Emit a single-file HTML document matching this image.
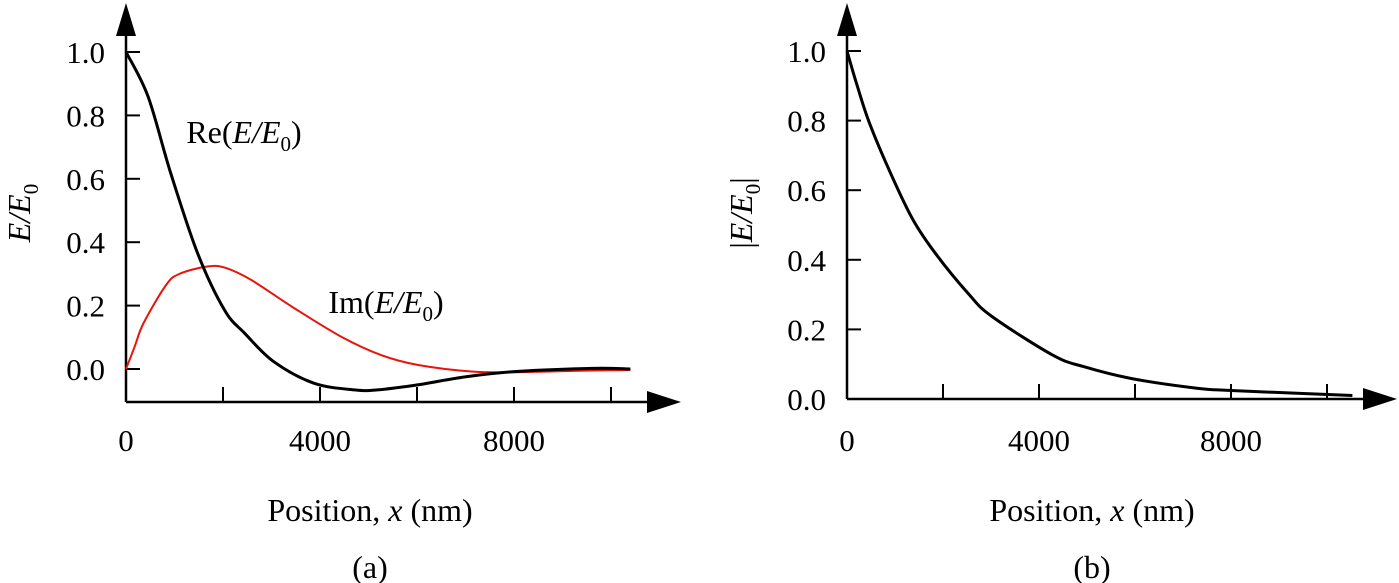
<!DOCTYPE html>
<html><head><meta charset="utf-8"><style>
html,body{margin:0;padding:0;background:#fff;}
svg{display:block;font-family:"Liberation Serif",serif;}
</style></head><body>
<svg id="fig" width="1399" height="583" viewBox="0 0 1399 583" xmlns="http://www.w3.org/2000/svg"></svg>
<script>
const reX = [0,454,918,1474,2030,2446,3048,3880,4715,5180,6010,7030,8050,9620,10400];
const reY = [1.0,0.86,0.62,0.366,0.186,0.113,0.023,-0.045,-0.066,-0.066,-0.05,-0.024,-0.008,0.002,0.0];
const imX = [0,177,363,826,1102,1660,2030,2580,3418,4437,5260,6010,7120,8050,9430,10400];
const imY = [0,0.07,0.145,0.265,0.30,0.323,0.32,0.281,0.197,0.102,0.044,0.013,-0.008,-0.01,-0.005,-0.003];
const absX = [0,198,470,940,1380,1840,2520,3020,4290,4930,5920,7290,8060,10530];
const absY = [1.0,0.907,0.792,0.639,0.514,0.419,0.304,0.237,0.126,0.093,0.059,0.031,0.024,0.01];
const yTicks = [0,0.2,0.4,0.6,0.8,1.0];
const yTickLabels = ["0.0","0.2","0.4","0.6","0.8","1.0"];
const xTicks = [2000,4000,6000,8000,10000];
const xLabelVals = [0,4000,8000];
const xLabels = ["0","4000","8000"];

const NS="http://www.w3.org/2000/svg";
const svg=document.getElementById('fig');
function mk(tag,attrs,parent,text){const e=document.createElementNS(NS,tag);for(const k in attrs)e.setAttribute(k,attrs[k]);if(text!==undefined)e.textContent=text;(parent||svg).appendChild(e);return e;}

function smooth(pts){
  let d='M'+pts[0][0].toFixed(1)+','+pts[0][1].toFixed(1);
  for(let i=0;i<pts.length-1;i++){
    const p0=pts[Math.max(0,i-1)],p1=pts[i],p2=pts[i+1],p3=pts[Math.min(pts.length-1,i+2)];
    const c1=[p1[0]+(p2[0]-p0[0])/6,p1[1]+(p2[1]-p0[1])/6];
    const c2=[p2[0]-(p3[0]-p1[0])/6,p2[1]-(p3[1]-p1[1])/6];
    d+=' C'+c1[0].toFixed(1)+','+c1[1].toFixed(1)+' '+c2[0].toFixed(1)+','+c2[1].toFixed(1)+' '+p2[0].toFixed(1)+','+p2[1].toFixed(1);
  }
  return d;
}

function panel(cfg){
  const g=mk('g',{});
  
  
  const sx=v=>cfg.x0+v*cfg.pxPer2000/2000;
  const sy=v=>cfg.y0-v*cfg.pxPerUnit;
  const ya=mk('line',{x1:cfg.x0,y1:cfg.axisY,x2:cfg.x0,y2:32,stroke:'#000','stroke-width':2.5},g);
  
  
  const yar=mk('polygon',{points:`${cfg.x0-10},36 ${cfg.x0+10},36 ${cfg.x0},3`,fill:'#000'},g);
  
  
  const xa=mk('line',{x1:cfg.x0,y1:cfg.axisY,x2:cfg.arrowTip-30,y2:cfg.axisY,stroke:'#000','stroke-width':2.5},g);
  
  
  const xar=mk('polygon',{points:`${cfg.arrowTip-34},${cfg.axisY-11} ${cfg.arrowTip-34},${cfg.axisY+11} ${cfg.arrowTip},${cfg.axisY}`,fill:'#000'},g);
  
  
  yTicks.forEach((v,i)=>{
    const t=mk('line',{x1:cfg.x0,x2:cfg.x0+14,y1:sy(v),y2:sy(v),stroke:'#000','stroke-width':2},g);
    
    
    const l=mk('text',{x:cfg.x0-21,y:sy(v)+11,'font-size':31,'text-anchor':'end'},g,yTickLabels[i]);
    
    
  });
  xTicks.forEach(v=>{
    const t=mk('line',{x1:sx(v),x2:sx(v),y1:cfg.axisY,y2:cfg.axisY-15,stroke:'#000','stroke-width':2},g);
    
    
  });
  xLabelVals.forEach((v,i)=>{
    const l=mk('text',{x:sx(v),y:451,'font-size':31,'text-anchor':'middle'},g,xLabels[i]);
    
    
  });
  const xt=mk('text',{x:cfg.titleX,y:521,'font-size':32,'text-anchor':'middle'},g);
  
  
  mk('tspan',{},xt,'Position, ');mk('tspan',{'font-style':'italic'},xt,'x');mk('tspan',{},xt,' (nm)');
  const cap=mk('text',{x:cfg.titleX,y:578,'font-size':32,'text-anchor':'middle'},g,cfg.caption);
  
  
  cfg.series.forEach(s=>{
    const pts=s.xs.map((x,i)=>[sx(x),sy(s.ys[i])]);
    const p=mk('path',{d:smooth(pts),fill:'none',stroke:s.color,'stroke-width':s.w,'stroke-linejoin':'round'},g);
    
    
  });
  return g;
}

panel({name:'panel-a',x0:126,y0:369,pxPerUnit:317,pxPer2000:97,axisY:402,arrowTip:681,titleX:370,caption:'(a)',
  series:[{xs:imX,ys:imY,color:'#e8140c',w:2,name:'im-curve'},{xs:reX,ys:reY,color:'#000',w:3,name:'re-curve'}]});
panel({name:'panel-b',x0:847,y0:399,pxPerUnit:348,pxPer2000:96,axisY:399,arrowTip:1397,titleX:1092,caption:'(b)',
  series:[{xs:absX,ys:absY,color:'#000',w:3,name:'abs-curve'}]});

function richLabel(x,y,pre,name,rot){
  const t=mk('text',{x:x,y:y,'font-size':32,'text-anchor':'middle'});
  if(rot)t.setAttribute('transform',`rotate(-90 ${x} ${y})`);
  
  
  mk('tspan',{},t,pre[0]);
  mk('tspan',{'font-style':'italic'},t,'E/E');
  mk('tspan',{'font-size':21,dy:8},t,'0');
  mk('tspan',{dy:-8},t,pre[1]);
}
richLabel(244,143,['Re(',')'],'re-label',false);
richLabel(386,313,['Im(',')'],'im-label',false);
richLabel(30,213,['',''],'y-axis-title-a',true);
richLabel(752,213,['|','|'],'y-axis-title-b',true);
</script>
</body></html>
